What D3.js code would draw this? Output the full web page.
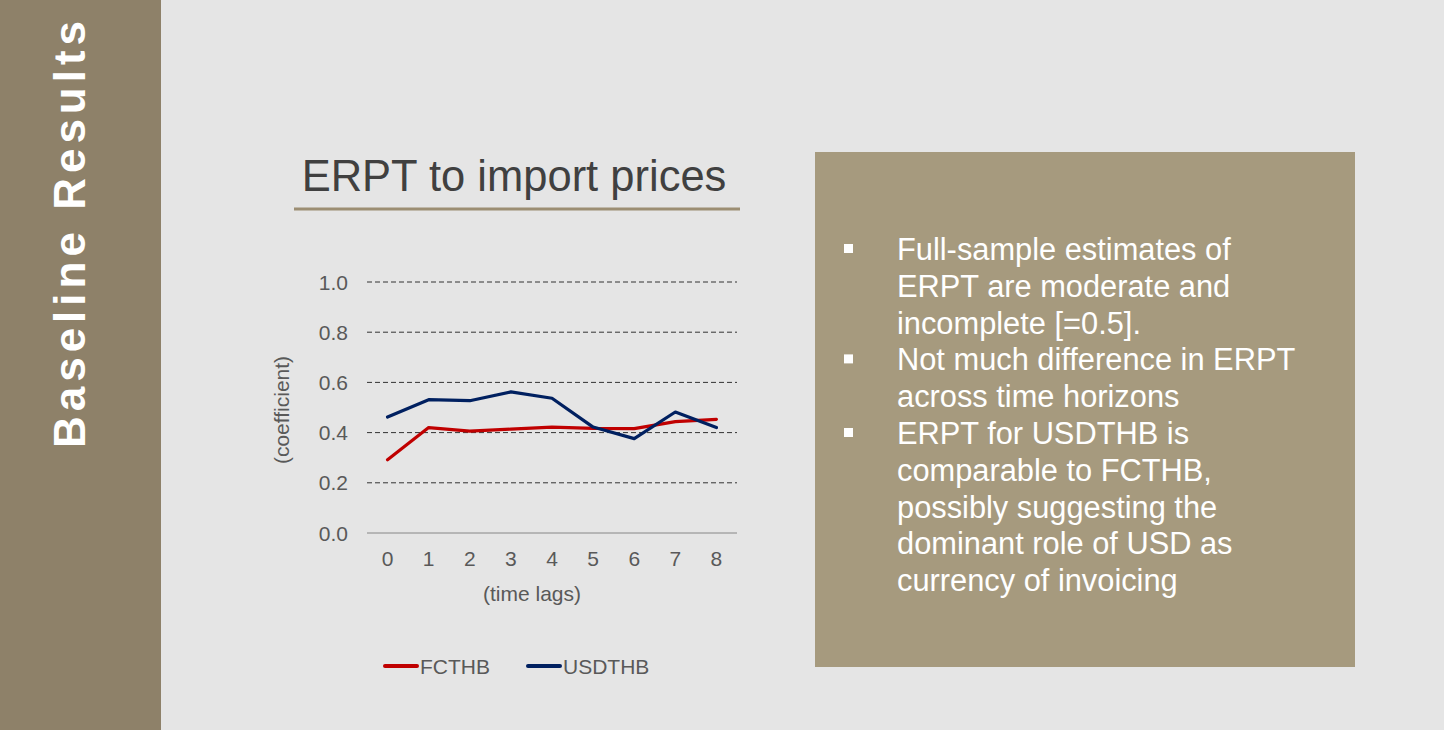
<!DOCTYPE html>
<html>
<head>
<meta charset="utf-8">
<script src="https://cdn.jsdelivr.net/npm/d3@7/dist/d3.min.js"></script>
<style>
  html, body { margin: 0; padding: 0; background: #e5e5e5; }
  svg { display: block; font-family: "Liberation Sans", Arial, sans-serif; }
</style>
</head>
<body>
<svg id="slide" width="1444" height="730"></svg>
<script>
// ─── Data ───────────────────────────────────────────────────────────────
const lags = ["0", "1", "2", "3", "4", "5", "6", "7", "8"];
const fcthb = [0.292, 0.420, 0.406, 0.414, 0.422, 0.417, 0.416, 0.444, 0.453];
const usdthb = [0.462, 0.531, 0.527, 0.562, 0.537, 0.422, 0.376, 0.482, 0.420];
const yTicks = [0, 0.2, 0.4, 0.6, 0.8, 1.0];
const seriesNames = ["FCTHB", "USDTHB"];
const seriesColors = ["#c00000", "#002060"];
const bullets = [
  ["Full-sample estimates of", "ERPT are moderate and", "incomplete [=0.5]."],
  ["Not much difference in ERPT", "across time horizons"],
  ["ERPT for USDTHB is", "comparable to FCTHB,", "possibly suggesting the", "dominant role of USD as", "currency of invoicing"]
];

const svg = d3.select("#slide");

// ─── Slide frame ────────────────────────────────────────────────────────
svg.append("rect").attr("x", 0).attr("y", 0).attr("width", 1444).attr("height", 730).attr("fill", "#e5e5e5");
svg.append("rect").attr("x", 0).attr("y", 0).attr("width", 161).attr("height", 730).attr("fill", "#8e8169");
svg.append("text")
  .attr("transform", "translate(85,232) rotate(-90)")
  .attr("text-anchor", "middle")
  .attr("fill", "#ffffff")
  .attr("font-weight", "bold")
  .attr("font-size", 44)
  .attr("letter-spacing", 5)
  .text("Baseline Results");

// title + underline
svg.append("text")
  .attr("x", 514).attr("y", 191)
  .attr("text-anchor", "middle")
  .attr("fill", "#404040")
  .attr("font-size", 43.5)
  .text("ERPT to import prices");
svg.append("line")
  .attr("x1", 294).attr("x2", 740).attr("y1", 209).attr("y2", 209)
  .attr("stroke", "#9c8e73").attr("stroke-width", 3);

// ─── Chart ──────────────────────────────────────────────────────────────
const x = d3.scaleBand().domain(lags).range([367, 737]);
const y = d3.scaleLinear().domain([0, 1]).range([533, 282]);
const cx = d => x(d) + x.bandwidth() / 2;

const chart = svg.append("g");

chart.selectAll(".grid")
  .data(yTicks.filter(t => t > 0))
  .join("line")
  .attr("class", "grid")
  .attr("x1", 367).attr("x2", 737)
  .attr("y1", d => y(d)).attr("y2", d => y(d))
  .attr("stroke", "#333").attr("stroke-width", 1)
  .attr("stroke-dasharray", "5,3");

chart.append("line")
  .attr("x1", 367).attr("x2", 737).attr("y1", y(0)).attr("y2", y(0))
  .attr("stroke", "#868686").attr("stroke-width", 1);

chart.selectAll(".ytick")
  .data(yTicks)
  .join("text")
  .attr("class", "ytick")
  .attr("x", 348).attr("y", d => y(d))
  .attr("dy", "0.36em")
  .attr("text-anchor", "end")
  .attr("fill", "#595959")
  .attr("font-size", 21)
  .text(d => d3.format(".1f")(d));

chart.selectAll(".xtick")
  .data(lags)
  .join("text")
  .attr("class", "xtick")
  .attr("x", cx).attr("y", 566)
  .attr("text-anchor", "middle")
  .attr("fill", "#595959")
  .attr("font-size", 21)
  .text(d => d);

chart.append("text")
  .attr("x", 532).attr("y", 601)
  .attr("text-anchor", "middle")
  .attr("fill", "#595959").attr("font-size", 21)
  .text("(time lags)");

chart.append("text")
  .attr("transform", "translate(289,410) rotate(-90)")
  .attr("text-anchor", "middle")
  .attr("fill", "#595959").attr("font-size", 21)
  .text("(coefficient)");

const line = d3.line().x((d, i) => cx(lags[i])).y(d => y(d));
[fcthb, usdthb].forEach((vals, i) => {
  chart.append("path")
    .datum(vals)
    .attr("d", line)
    .attr("fill", "none")
    .attr("stroke", seriesColors[i])
    .attr("stroke-width", 3.2)
    .attr("stroke-linejoin", "round")
    .attr("stroke-linecap", "round");
});

// legend
const legendX = [385, 528];
seriesNames.forEach((name, i) => {
  const g = svg.append("g").attr("transform", `translate(${legendX[i]},666)`);
  g.append("line").attr("x1", 0).attr("x2", 32).attr("y1", 0).attr("y2", 0)
    .attr("stroke", seriesColors[i]).attr("stroke-width", 4).attr("stroke-linecap", "round");
  g.append("text").attr("x", 35).attr("y", 0).attr("dy", "0.36em")
    .attr("fill", "#595959").attr("font-size", 21).text(name);
});

// ─── Text box ───────────────────────────────────────────────────────────
svg.append("rect")
  .attr("x", 815).attr("y", 152).attr("width", 540).attr("height", 515)
  .attr("fill", "#a69a7e");

let row = 0;
const baseY = 260, lineH = 36.8;
bullets.forEach(lines => {
  svg.append("rect")
    .attr("x", 844).attr("y", baseY + row * lineH - 16)
    .attr("width", 9).attr("height", 9)
    .attr("fill", "#ffffff");
  lines.forEach(t => {
    svg.append("text")
      .attr("x", 897).attr("y", baseY + row * lineH)
      .attr("fill", "#ffffff").attr("font-size", 30.8)
      .text(t);
    row++;
  });
});
</script>
</body>
</html>
